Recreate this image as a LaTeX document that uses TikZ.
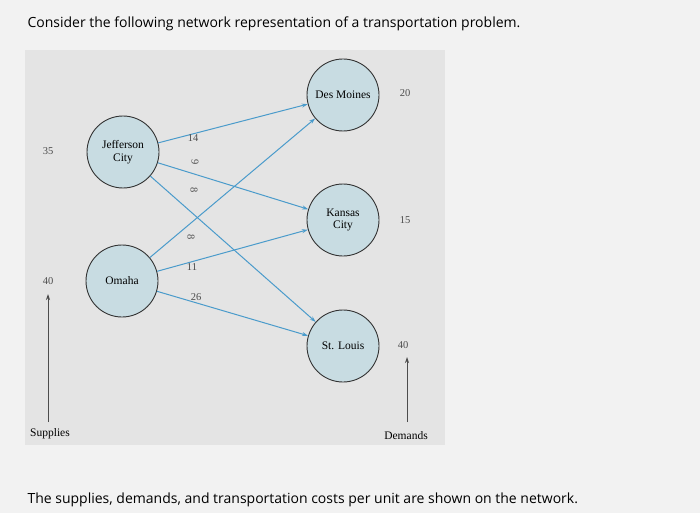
\documentclass[tikz,border=0pt]{standalone}
\usepackage{fontspec}
\setmainfont{Liberation Serif}
\newfontfamily\uisans{Open Sans}
\usetikzlibrary{arrows.meta}
\definecolor{bgc}{HTML}{F2F2F2}
\definecolor{panel}{HTML}{E4E4E4}
\definecolor{circ}{HTML}{C8DCE2}
\definecolor{edge}{HTML}{4A9BCB}
\begin{document}
\begin{tikzpicture}[x=1pt,y=-1pt,
  city/.style={circle,draw=black!80,line width=0.9pt,fill=circ,minimum size=72pt,inner sep=0pt,align=center,font=\fontsize{11.5}{12.5}\selectfont},
  route/.style={draw=edge,line width=1pt,-{Stealth[length=6pt,width=4pt]}},
  num/.style={font=\fontsize{10.5}{11}\selectfont,text=black!70},
  lab/.style={font=\fontsize{11.5}{12}\selectfont}]
\fill[bgc] (0,0) rectangle (700,513);
\useasboundingbox (0,0) rectangle (700,513);
\fill[panel] (25,50) rectangle (445,445);
\node[anchor=west,font=\uisans\fontsize{14}{16}\selectfont] (title) at (24,24) {Consider the following network representation of a transportation problem.};
\node[anchor=west,font=\uisans\fontsize{14}{16}\selectfont] (foot) at (24,500) {The supplies, demands, and transportation costs per unit are shown on the network.};
\node[city] (jc) at (123,152) {Jefferson\\City};
\node[city] (om) at (122,281) {Omaha};
\node[city] (dm) at (343,95) {Des Moines};
\node[city] (kc) at (343,220) {Kansas\\City};
\node[city] (sl) at (343,346) {St. Louis};
\draw[route] (jc) -- (dm);
\draw[route] (jc) -- (kc);
\draw[route] (jc) -- (sl);
\draw[route] (om) -- (dm);
\draw[route] (om) -- (kc);
\draw[route] (om) -- (sl);
\node[num] (c1) at (193,138) {14};
\node[num,rotate=-90] (c2) at (195,162) {9};
\node[num,rotate=-90] (c3) at (194,190) {8};
\node[num,rotate=-90] (c4) at (191,237) {8};
\node[num] (c5) at (192,267) {11};
\node[num] (c6) at (196,297) {26};
\node[num] (s1) at (48,151) {35};
\node[num] (s2) at (48,281) {40};
\node[num] (d1) at (405,93) {20};
\node[num] (d2) at (405,220) {15};
\node[num] (d3) at (403,345) {40};
\node[lab] (sup) at (50,434) {Supplies};
\node[lab] (dem) at (406,436) {Demands};
\coordinate (sa) at (48,422);
\coordinate (sb) at (48,294);
\coordinate (da) at (407,422);
\coordinate (db) at (407,357);
\draw[black!70,line width=0.8pt,-{Stealth[length=6pt,width=4pt]}] (sa) -- (sb);
\draw[black!70,line width=0.8pt,-{Stealth[length=6pt,width=4pt]}] (da) -- (db);
\end{tikzpicture}
\end{document}
